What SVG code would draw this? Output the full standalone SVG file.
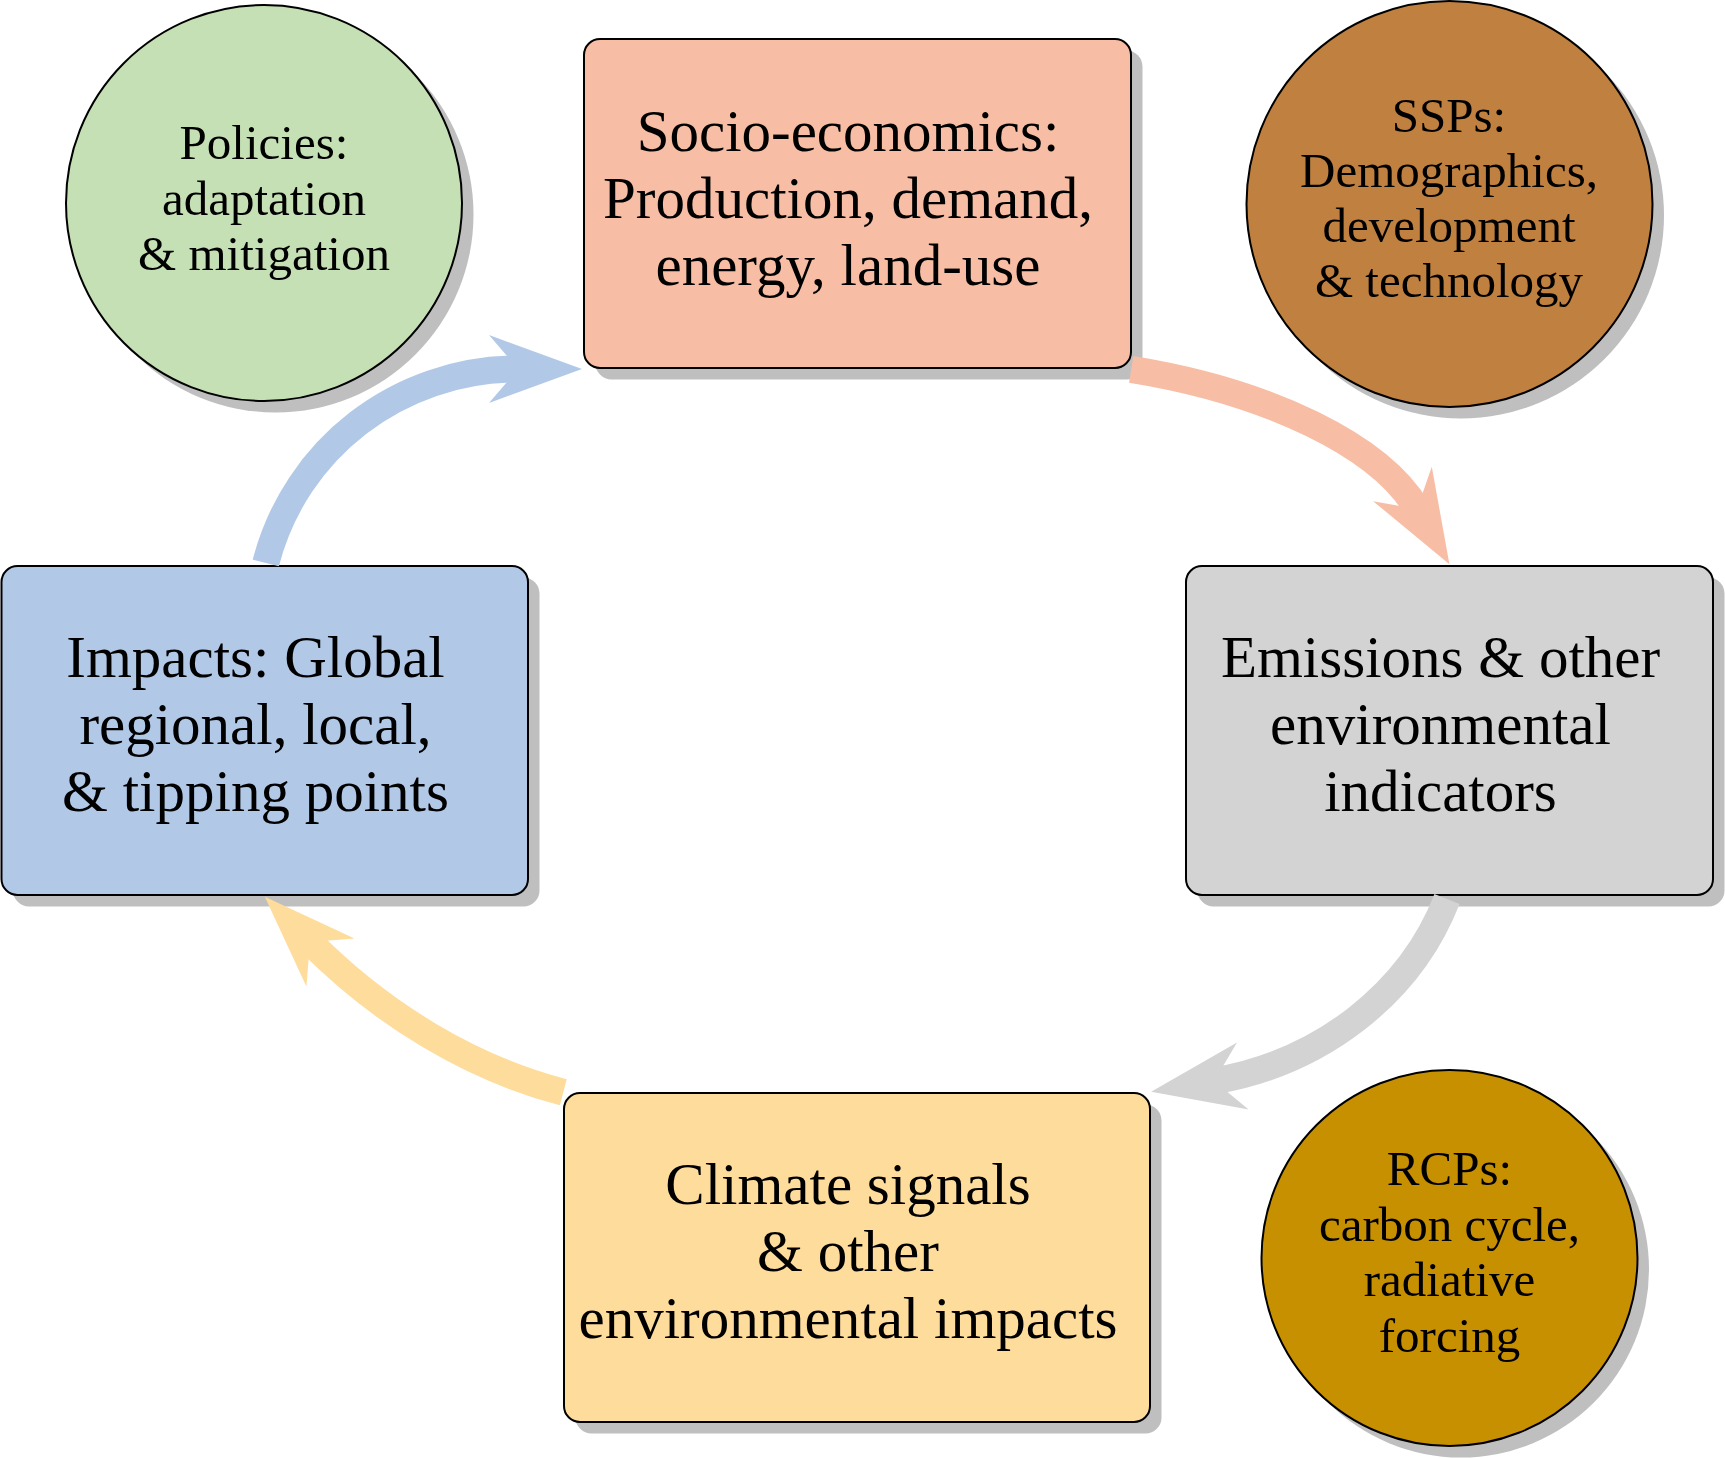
<svg xmlns="http://www.w3.org/2000/svg" width="1725" height="1458" viewBox="0 0 1725 1458">
<style>
.shadow { fill:#bfbfbf; }
.shape { stroke:#000; stroke-width:2; }
.label { font-family:"Liberation Serif","Times New Roman",serif; fill:#000; text-anchor:middle; }
.big { font-size:59px; }
.small { font-size:49px; }
.conn { fill:none; stroke-width:27; stroke-linecap:butt; }
</style>
<defs>
<marker id="head-blue" markerUnits="userSpaceOnUse" orient="auto" refX="29" refY="0" markerWidth="94" markerHeight="70" viewBox="0 -35 94 70" overflow="visible"><path d="M0,-34 L93,0 L0,34 L29,0 Z" fill="#b1c9e7"/></marker>
<marker id="head-salmon" markerUnits="userSpaceOnUse" orient="auto" refX="29" refY="0" markerWidth="94" markerHeight="70" viewBox="0 -35 94 70" overflow="visible"><path d="M0,-34 L93,0 L0,34 L29,0 Z" fill="#f7bea5"/></marker>
<marker id="head-gray" markerUnits="userSpaceOnUse" orient="auto" refX="29" refY="0" markerWidth="94" markerHeight="70" viewBox="0 -35 94 70" overflow="visible"><path d="M0,-34 L93,0 L0,34 L29,0 Z" fill="#d3d3d3"/></marker>
<marker id="head-yellow" markerUnits="userSpaceOnUse" orient="auto" refX="29" refY="0" markerWidth="94" markerHeight="70" viewBox="0 -35 94 70" overflow="visible"><path d="M0,-34 L93,0 L0,34 L29,0 Z" fill="#fedc9b"/></marker>
</defs>
<rect width="1725" height="1458" fill="#ffffff"/>
<g id="nodes">
  <g id="policies">
    <circle class="shadow" cx="275.5" cy="214.5" r="198"/>
    <circle class="shape" cx="264" cy="203" r="198" fill="#c5e0b4"/>
    <text class="label small"><tspan x="264" y="159">Policies:</tspan><tspan x="264" y="215">adaptation</tspan><tspan x="264" y="270">&amp; mitigation</tspan></text>
  </g>
  <g id="socio">
    <rect class="shadow" x="595.5" y="50.5" width="547" height="329" rx="16"/>
    <rect class="shape" x="584" y="39" width="547" height="329" rx="16" fill="#f7bea5"/>
    <text class="label big"><tspan x="848" y="151">Socio-economics:</tspan><tspan x="848" y="218">Production, demand,</tspan><tspan x="848" y="285">energy, land-use</tspan></text>
  </g>
  <g id="ssps">
    <circle class="shadow" cx="1461" cy="215.5" r="203"/>
    <circle class="shape" cx="1449.5" cy="204" r="203" fill="#c0803f"/>
    <text class="label small"><tspan x="1449" y="132">SSPs:</tspan><tspan x="1449" y="187">Demographics,</tspan><tspan x="1449" y="242">development</tspan><tspan x="1449" y="297">&amp; technology</tspan></text>
  </g>
  <g id="impacts">
    <rect class="shadow" x="13" y="577.5" width="526.5" height="329" rx="16"/>
    <rect class="shape" x="1.5" y="566" width="526.5" height="329" rx="16" fill="#b1c9e7"/>
    <text class="label big"><tspan x="255.5" y="677">Impacts: Global</tspan><tspan x="255.5" y="744">regional, local,</tspan><tspan x="255.5" y="811">&amp; tipping points</tspan></text>
  </g>
  <g id="emissions">
    <rect class="shadow" x="1197.5" y="577.5" width="527" height="329" rx="16"/>
    <rect class="shape" x="1186" y="566" width="527" height="329" rx="16" fill="#d3d3d3"/>
    <text class="label big"><tspan x="1440.5" y="677">Emissions &amp; other</tspan><tspan x="1440.5" y="744">environmental</tspan><tspan x="1440.5" y="811">indicators</tspan></text>
  </g>
  <g id="climate">
    <rect class="shadow" x="575.5" y="1104.5" width="586" height="329" rx="16"/>
    <rect class="shape" x="564" y="1093" width="586" height="329" rx="16" fill="#fedc9b"/>
    <text class="label big"><tspan x="848" y="1204">Climate signals</tspan><tspan x="848" y="1271">&amp; other</tspan><tspan x="848" y="1338">environmental impacts</tspan></text>
  </g>
  <g id="rcps">
    <circle class="shadow" cx="1461" cy="1269.5" r="188"/>
    <circle class="shape" cx="1449.5" cy="1258" r="188" fill="#c79000"/>
    <text class="label small"><tspan x="1449.5" y="1185">RCPs:</tspan><tspan x="1449.5" y="1241">carbon cycle,</tspan><tspan x="1449.5" y="1296">radiative</tspan><tspan x="1449.5" y="1352">forcing</tspan></text>
  </g>
</g>
<g id="connectors">
  <path class="conn" stroke="#b1c9e7" marker-end="url(#head-blue)" d="M265.8,563 C295.3,448.5 398.7,369 518,369"/>
  <path class="conn" stroke="#f7bea5" marker-end="url(#head-salmon)" d="M1131.2,369.3 C1268.8,391.6 1380.3,446.1 1417.1,509"/>
  <path class="conn" stroke="#d3d3d3" marker-end="url(#head-gray)" d="M1447,899 C1410.2,993.2 1321.7,1062.4 1214.2,1080.9"/>
  <path class="conn" stroke="#fedc9b" marker-end="url(#head-yellow)" d="M563.3,1092.2 C472.4,1068.6 383.8,1016 310,942"/>
</g>
</svg>
